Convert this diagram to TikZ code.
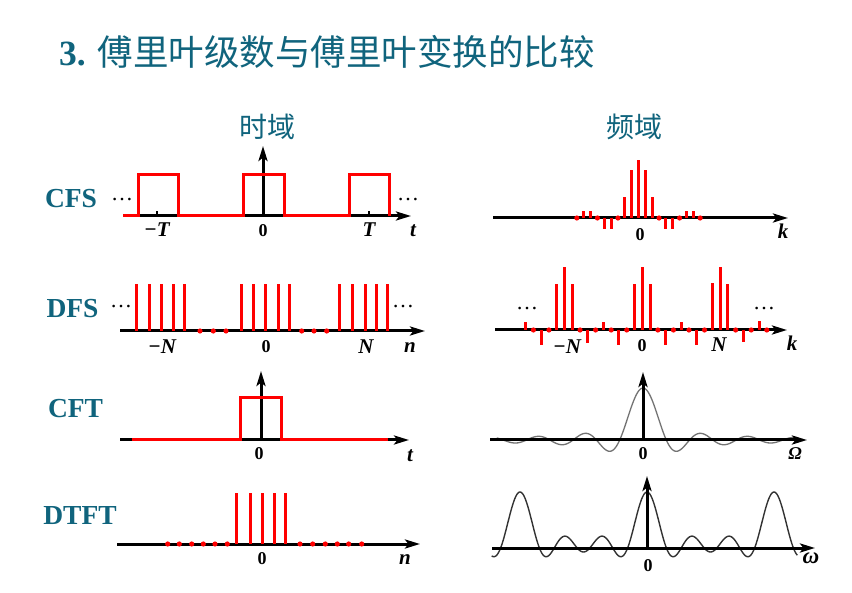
\documentclass[tikz,border=0pt]{standalone}
\usepackage{fontspec}
\setmainfont{Liberation Serif}
\newfontfamily\cjk{Noto Sans CJK SC}
\usetikzlibrary{arrows.meta}
\definecolor{teal1}{RGB}{16,100,125}
\begin{document}
\begin{tikzpicture}[x=1pt,y=-1pt]
\tikzset{
 ax/.style={line width=3pt, -{Stealth[length=15pt,width=9pt,inset=3.5pt]}},
 sig/.style={red, line width=3pt, line join=miter},
 stem/.style={red, line width=3pt},
 rdot/.style={circle, fill=red, inner sep=0pt, minimum size=5.2pt},
 rowlab/.style={font=\fontsize{27.5}{30}\selectfont\bfseries, text=teal1, anchor=base, inner sep=0pt},
 hdr/.style={font=\cjk\fontsize{28}{30}\selectfont, text=teal1, anchor=base, inner sep=0pt},
 lab/.style={font=\fontsize{18}{20}\selectfont\bfseries, anchor=base, inner sep=0pt},
 ilab/.style={font=\fontsize{21}{23}\selectfont\bfseries\itshape, anchor=base, inner sep=0pt},
 ell/.style={font=\fontsize{22}{24}\selectfont, anchor=base, inner sep=0pt},
 tickmark/.style={line width=1.8pt},
 crvA/.style={black!55, line width=1.3pt},
 crvB/.style={black!80, line width=1.4pt},
}
\fill[white] (0,0) rectangle (852,593);
\useasboundingbox (0,0) rectangle (852,593);

% title
\node[anchor=base west, inner sep=0pt, text=teal1] (title) at (59,66)
  {\fontsize{35.5}{38}\selectfont\textbf{3.} \cjk 傅里叶级数与傅里叶变换的比较};
\node[hdr] (hT) at (267,138) {时域};
\node[hdr] (hF) at (634,138) {频域};

% row labels
\node[rowlab] (rCFS) at (71,208) {CFS};
\node[rowlab] (rDFS) at (72.5,318) {DFS};
\node[rowlab] (rCFT) at (75.5,418) {CFT};
\node[rowlab] (rDTFT) at (80,525) {DTFT};

% ================= CFS time
\draw[ax] (123,216) -- (411,216);
\draw[ax] (263,216) -- (263,146);
\draw[tickmark] (157,216) -- (157,211);
\draw[tickmark] (369,216) -- (369,211);
\draw[sig] (123,216) -- (138,216) -- (138,175) -- (178,175) -- (178,216) -- (243,216)
  -- (243,174.5) -- (284,174.5) -- (284,216) -- (349,216) -- (349,174.5) -- (389,174.5) -- (389,216);
\node[ilab] (a1) at (157,237) {−T};
\node[lab] (a2) at (263,237) {0};
\node[ilab] (a3) at (369,237) {T};
\node[ilab] (a4) at (413,237) {t};
\node[ell] (e1) at (122,201) {…};
\node[ell] (e2) at (408,201) {…};

% ================= CFS frequency
\draw[ax] (493,218) -- (788,218);
\foreach \k/\h in {-8/6.5,-7/6.7,-5/-10.7,-4/-10.7,-2/21,-1/47.7,0/57.7,1/47.7,2/21,4/-10.7,5/-10.7,7/6.7,8/6.5}
  \draw[stem] ({638.5+6.85*\k},218) -- ({638.5+6.85*\k},{218-\h});
\foreach \k in {-9,-6,-3,3,6,9}
  \node[rdot] at ({638.5+6.85*\k},218) {};
\node[lab] (b1) at (640,241) {0};
\node[ilab] (b2) at (783,239) {k};

% ================= DFS time
\draw[ax] (120,331) -- (425,331);
\foreach \x in {136,149.3,161,173.3,184.3,241.7,253.3,265,278.3,289.3,339.3,352.3,365,376.7,387.3}
  \draw[stem] (\x,331) -- (\x,284.3);
\foreach \x in {200,213.3,226,301.7,314,326.7}
  \node[rdot] at (\x,331) {};
\node[ilab] (c1) at (162,354) {−N};
\node[lab] (c2) at (266,353) {0};
\node[ilab] (c3) at (366,354) {N};
\node[ilab] (c4) at (410,353) {n};
\node[ell] (e3) at (121,308) {…};
\node[ell] (e4) at (403,308) {…};

% ================= DFS frequency
\draw[ax] (495,330) -- (787,330);
\foreach \k/\h in {-15/8,-13/-15,-11/46,-10/63,-9/46,-7/-13,-5/8,-3/-15,-1/46,0/63,1/46,3/-15,5/8,7/-15,9/47,10/63,11/46,13/-12,15/9}
  \draw[stem] ({642.3+7.78*\k},330) -- ({642.3+7.78*\k},{330-\h});
\foreach \k in {-14,-12,-8,-6,-4,-2,2,4,6,8,12,14,16}
  \node[rdot] at ({642.3+7.78*\k},330) {};
\node[ilab] (d1) at (567,354) {−N};
\node[lab] (d2) at (642,352) {0};
\node[ilab] (d3) at (719,352) {N};
\node[ilab] (d4) at (792,351) {k};
\node[ell] (e5) at (527,310) {…};
\node[ell] (e6) at (764,310) {…};

% ================= CFT time
\draw[ax] (120,440) -- (409,440);
\draw[ax] (261,440) -- (261,371);
\draw[sig] (132,440) -- (240,440) -- (240,398) -- (281,398) -- (281,440) -- (388,440);
\node[lab] (f1) at (259,460) {0};
\node[ilab] (f2) at (410,462) {t};

% ================= CFT frequency
\draw[crvA] plot[domain=-146.3:154.3, samples=302]
  ({643+\x}, {440-52*sin((\x/23.3)*180)/(pi*(\x/23.3))});
\draw[ax] (490,440) -- (807,440);
\draw[ax] (643,440) -- (643,372);
\node[lab] (g1) at (643,460) {0};
\node[ilab, font=\fontsize{18}{20}\selectfont\bfseries\itshape] (g2) at (795,460) {Ω};

% ================= DTFT time
\draw[ax] (117,544) -- (420,544);
\foreach \x in {236.7,250,262.3,274,285.7}
  \draw[stem] (\x,544) -- (\x,493);
\foreach \x in {167.7,179.3,191.7,203.3,215,227.3,300,312.7,325.3,337.3,348.7,361.7}
  \node[rdot] at (\x,544) {};
\node[lab] (h1) at (262,565) {0};
\node[ilab] (h2) at (405,565) {n};

% ================= DTFT frequency
\draw[crvB] plot[domain=-155.3:150.3, samples=307]
  ({647+\x}, {548-3.5-52.5*sin((\x/127)*1260)/(7*sin((\x/127)*180))});
\draw[ax] (492,548) -- (815,548);
\draw[ax] (647,548) -- (647,476);
\node[lab] (i1) at (648,571) {0};
\node[ilab, font=\fontsize{23}{25}\selectfont\bfseries\itshape] (i2) at (811,563) {ω};
\end{tikzpicture}
\end{document}
